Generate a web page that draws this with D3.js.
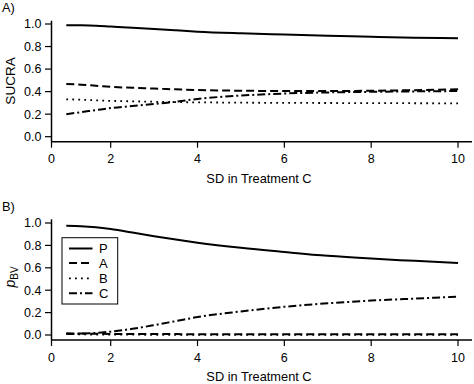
<!DOCTYPE html>
<html>
<head>
<meta charset="utf-8">
<script src="https://cdn.jsdelivr.net/npm/d3@7"></script>
<style>
  body { margin: 0; background: #fff; }
  text { font-family: "Liberation Sans", Arial, sans-serif; fill: #000; }
</style>
</head>
<body>
<div id="chart"></div>
<script>
// x positions (SD in treatment C)
var sdVals = [0.5, 1, 1.5, 2, 2.5, 3, 3.5, 4, 5, 6, 7, 8, 9, 10];

// panel A: SUCRA
var sucraP = [0.99, 0.988, 0.984, 0.977, 0.967, 0.956, 0.944, 0.932, 0.917, 0.906, 0.896, 0.887, 0.879, 0.874];
var sucraA = [0.468, 0.462, 0.452, 0.442, 0.434, 0.427, 0.42, 0.414, 0.408, 0.405, 0.405, 0.408, 0.413, 0.42];
var sucraB = [0.332, 0.328, 0.323, 0.318, 0.314, 0.31, 0.307, 0.305, 0.302, 0.3, 0.299, 0.298, 0.297, 0.296];
var sucraC = [0.2, 0.218, 0.236, 0.254, 0.272, 0.29, 0.31, 0.335, 0.365, 0.383, 0.393, 0.398, 0.402, 0.405];

// panel B: probability best value
var pbvP = [0.976, 0.972, 0.962, 0.946, 0.915, 0.882, 0.852, 0.824, 0.778, 0.741, 0.707, 0.682, 0.662, 0.642];
var pbvA = [0.015, 0.013, 0.011, 0.01, 0.009, 0.008, 0.008, 0.007, 0.007, 0.006, 0.006, 0.006, 0.006, 0.006];
var pbvB = [0.01, 0.006, 0.004, 0.003, 0.003, 0.002, 0.002, 0.002, 0.002, 0.002, 0.002, 0.002, 0.002, 0.002];
var pbvC = [0.008, 0.012, 0.018, 0.03, 0.055, 0.088, 0.124, 0.16, 0.21, 0.252, 0.283, 0.307, 0.325, 0.342];

var seriesNames = ["P", "A", "B", "C"];
var xTicks = [0, 2, 4, 6, 8, 10];
var yTicks = [0, 0.2, 0.4, 0.6, 0.8, 1.0];

var w = 474, h = 384;
var dashes = ["none", "8,4", "1.8,4.2", "8,3,2,3"];

var svg = d3.select("#chart").append("svg")
  .attr("width", w).attr("height", h);

var xScale = d3.scaleLinear().domain([0, 2, 10]).range([51.5, 110.7, 458]);

function panel(letter, top0, top1, seriesList, axisY, axisTop) {
  var yScale = d3.scaleLinear().domain([0, 1]).range([top0, top1]);
  var g = svg.append("g");

  // axes lines
  g.append("line")
    .attr("x1", 51.5).attr("x2", 472)
    .attr("y1", axisY).attr("y2", axisY)
    .attr("stroke", "#000").attr("stroke-width", 1.5);
  g.append("line")
    .attr("x1", 51.5).attr("x2", 51.5)
    .attr("y1", axisTop).attr("y2", axisY)
    .attr("stroke", "#000").attr("stroke-width", 1.5);

  // x ticks
  var xt = g.selectAll(".xt").data(xTicks).enter().append("g");
  xt.append("line")
    .attr("x1", function(d) { return xScale(d); })
    .attr("x2", function(d) { return xScale(d); })
    .attr("y1", axisY).attr("y2", axisY + 6)
    .attr("stroke", "#000").attr("stroke-width", 1.2);
  xt.append("text")
    .attr("x", function(d) { return xScale(d); })
    .attr("y", axisY + 21.5)
    .attr("text-anchor", "middle")
    .attr("font-size", 12.5)
    .text(function(d) { return d; });

  // y ticks
  var yt = g.selectAll(".yt").data(yTicks).enter().append("g");
  yt.append("line")
    .attr("x1", 45).attr("x2", 51.5)
    .attr("y1", function(d) { return yScale(d); })
    .attr("y2", function(d) { return yScale(d); })
    .attr("stroke", "#000").attr("stroke-width", 1.2);
  yt.append("text")
    .attr("x", 41.5)
    .attr("y", function(d) { return yScale(d) + 4.4; })
    .attr("text-anchor", "end")
    .attr("font-size", 12.5)
    .text(function(d) { return d.toFixed(1); });

  g.append("text")
    .attr("x", 259).attr("y", axisY + 41)
    .attr("text-anchor", "middle")
    .attr("font-size", 12.8)
    .text("SD in Treatment C");

  g.append("text")
    .attr("x", 2).attr("y", top1 - 12)
    .attr("font-size", 12.8)
    .text(letter);

  var line = d3.line()
    .x(function(d) { return xScale(d[0]); })
    .y(function(d) { return yScale(d[1]); })
    .curve(d3.curveMonotoneX);

  seriesList.forEach(function(vals, i) {
    g.append("path")
      .datum(sdVals.map(function(x, j) { return [x, vals[j]]; }))
      .attr("d", line)
      .attr("fill", "none")
      .attr("stroke", "#000")
      .attr("stroke-width", i === 2 ? 1.8 : 2)
      .attr("stroke-dasharray", dashes[i]);
  });

  return g;
}

var gA = panel("A)", 136.7, 24, [sucraP, sucraA, sucraB, sucraC], 141.7, 20.7);
gA.append("text")
  .attr("transform", "translate(15,81)rotate(-90)")
  .attr("text-anchor", "middle")
  .attr("font-size", 13.5)
  .text("SUCRA");

var gB = panel("B)", 335, 223, [pbvP, pbvA, pbvB, pbvC], 340, 219.3);
var yl = gB.append("text")
  .attr("transform", "translate(15,277)rotate(-90)")
  .attr("text-anchor", "middle")
  .attr("font-size", 14);
yl.append("tspan").attr("font-style", "italic").text("p");
yl.append("tspan").attr("font-size", 10).attr("dy", 3).text("BV");

// legend
var leg = gB.append("g");
leg.append("rect")
  .attr("x", 62).attr("y", 237.7)
  .attr("width", 55.7).attr("height", 66.3)
  .attr("fill", "#fff").attr("stroke", "#000").attr("stroke-width", 1);
var legY = [248.5, 263, 278.3, 293.3];
seriesNames.forEach(function(name, i) {
  leg.append("line")
    .attr("x1", 69).attr("x2", 92.5)
    .attr("y1", legY[i]).attr("y2", legY[i])
    .attr("stroke", "#000")
    .attr("stroke-width", i === 2 ? 1.8 : 2)
    .attr("stroke-dasharray", dashes[i]);
  leg.append("text")
    .attr("x", 99).attr("y", legY[i] + 4.6)
    .attr("font-size", 13)
    .text(name);
});
</script>
</body>
</html>
